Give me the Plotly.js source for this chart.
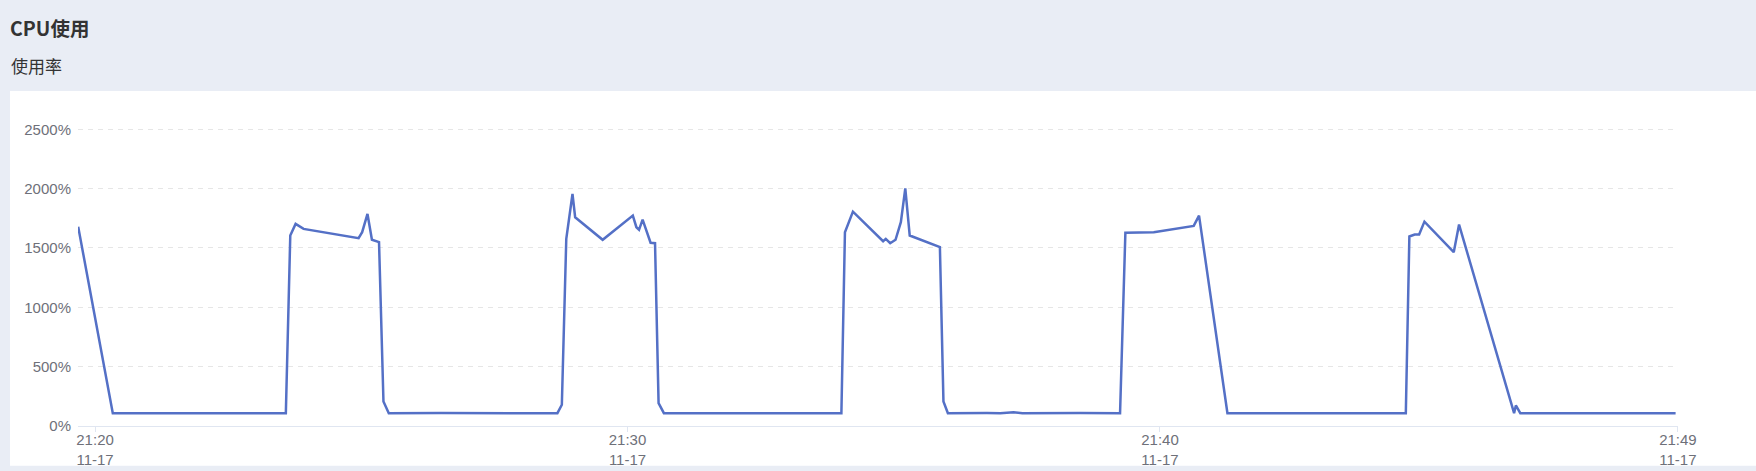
<!DOCTYPE html>
<html>
<head>
<meta charset="utf-8">
<script src="https://cdn.plot.ly/plotly-3.0.1.min.js"></script>
<style>
  html, body { margin: 0; padding: 0; background: #e9edf5; }
  #chart { width: 1756px; height: 471px; }
</style>
</head>
<body>
<div id="chart"></div>
<script>
// ---- data ----
const day = '2024-11-17';
const chartTitle = 'CPU使用';
const subTitle = '使用率';
const seriesName = '使用率';

const times = [
  '21:19:41','21:20:20','21:21:00','21:21:45','21:22:30','21:23:00','21:23:35',
  '21:23:40','21:23:46','21:23:55','21:24:57','21:25:01','21:25:07','21:25:12','21:25:20','21:25:25','21:25:31',
  '21:26:30','21:27:30','21:28:00','21:28:41',
  '21:28:46','21:28:51','21:28:58','21:29:01','21:29:32','21:30:06','21:30:10','21:30:13','21:30:17','21:30:23','21:30:26','21:30:31','21:30:35','21:30:41',
  '21:31:30','21:32:30','21:33:30','21:34:00','21:34:01',
  '21:34:05','21:34:14','21:34:48','21:34:51','21:34:56','21:35:02','21:35:08','21:35:13','21:35:18','21:35:52','21:35:56','21:36:01',
  '21:36:45','21:37:00','21:37:15','21:37:25','21:38:30','21:39:15',
  '21:39:21','21:39:53','21:40:38','21:40:44','21:41:16',
  '21:42:00','21:43:00','21:44:00','21:44:37',
  '21:44:41','21:44:47','21:44:52','21:44:58','21:45:31','21:45:37','21:46:39','21:46:41','21:46:46',
  '21:47:30','21:48:15','21:49:00','21:49:41'
];
const cpuUsage = [
  1680,108,108,109,107,108,108,
  1605,1703,1661,1583,1633,1787,1569,1549,206,108,
  109,108,110,108,
  179,1577,1955,1759,1569,1773,1675,1653,1739,1597,1544,1540,193,108,
  109,108,108,107,108,
  1633,1806,1557,1577,1540,1569,1717,2002,1605,1507,206,108,
  109,108,116,108,109,108,
  1628,1633,1686,1773,108,
  109,108,109,108,
  1597,1613,1613,1722,1465,1697,108,173,108,
  109,108,109,108
];

const xRange = ['21:19:40.8', '21:49:43.7'];
const xTickTimes = ['21:20:00', '21:30:00', '21:40:00', '21:49:43.6'];
const xTickTimeLabels = ['21:20', '21:30', '21:40', '21:49'];
const xTickDateLabels = ['11-17', '11-17', '11-17', '11-17'];
const yTicks = [0, 500, 1000, 1500, 2000, 2500];
const yTickLabels = ['0%', '500%', '1000%', '1500%', '2000%', '2500%'];
const yRange = [0, 2519.4];

// ---- chart ----
const toDate = t => day + ' ' + t;

const trace = {
  type: 'scatter',
  mode: 'lines',
  name: seriesName,
  x: times.map(toDate),
  y: cpuUsage,
  line: { color: '#5470c6', width: 2.5 },
  hovertemplate: '%{y}%<extra></extra>'
};

const tickFont = { family: 'Liberation Sans, Arial, sans-serif', size: 15, color: '#6e7079' };

const M = { l: 78, r: 78, t: 127, b: 45 };
const plotH = 471 - M.t - M.b;   // 299
const plotW = 1756 - M.l - M.r;  // 1600

const layout = {
  width: 1756,
  height: 471,
  margin: M,
  paper_bgcolor: '#e9edf5',
  plot_bgcolor: '#ffffff',
  showlegend: false,
  title: {
    text: '<b>' + chartTitle + '</b>',
    xref: 'container', yref: 'container',
    x: 10 / 1756, xanchor: 'left',
    y: 1 - 29.5 / 471, yanchor: 'middle',
    font: { family: 'Noto Sans CJK SC, sans-serif', size: 19.5, color: '#333333' }
  },
  xaxis: {
    type: 'date',
    range: xRange.map(toDate),
    tickmode: 'array',
    tickvals: xTickTimes.map(toDate),
    ticktext: xTickTimeLabels.map((t, i) => t + '<br>' + xTickDateLabels[i]),
    ticks: 'outside',
    ticklen: 5,
    tickwidth: 1,
    tickcolor: '#e0e6f1',
    showline: true,
    linecolor: '#e0e6f1',
    linewidth: 1.3,
    showgrid: false,
    zeroline: false,
    tickfont: tickFont,
    ticklabelstandoff: -5,
    fixedrange: true
  },
  yaxis: {
    range: yRange,
    tickmode: 'array',
    tickvals: yTicks,
    ticktext: yTickLabels,
    ticks: '',
    showline: false,
    zeroline: false,
    showgrid: true,
    gridcolor: '#e6e6e6',
    gridwidth: 1,
    griddash: '5px,5px',
    tickfont: tickFont,
    ticklabelstandoff: 6,
    fixedrange: true
  },
  shapes: [{
    type: 'rect', layer: 'below',
    xref: 'paper', yref: 'paper',
    x0: (10 - M.l) / plotW, x1: (1756 - M.l) / plotW,
    y0: -(465.7 - (471 - M.b)) / plotH, y1: 1 + (M.t - 91) / plotH,
    fillcolor: '#ffffff', line: { width: 0 }
  }],
  annotations: [{
    xref: 'paper', yref: 'paper',
    x: (9 - M.l) / plotW, y: 1,
    xanchor: 'left', yanchor: 'middle',
    yshift: M.t - 65,
    text: subTitle,
    showarrow: false,
    font: { family: 'Noto Sans CJK SC, sans-serif', size: 17, color: '#333333' }
  }]
};

Plotly.newPlot('chart', [trace], layout, { displayModeBar: false, staticPlot: true });
</script>
</body>
</html>
